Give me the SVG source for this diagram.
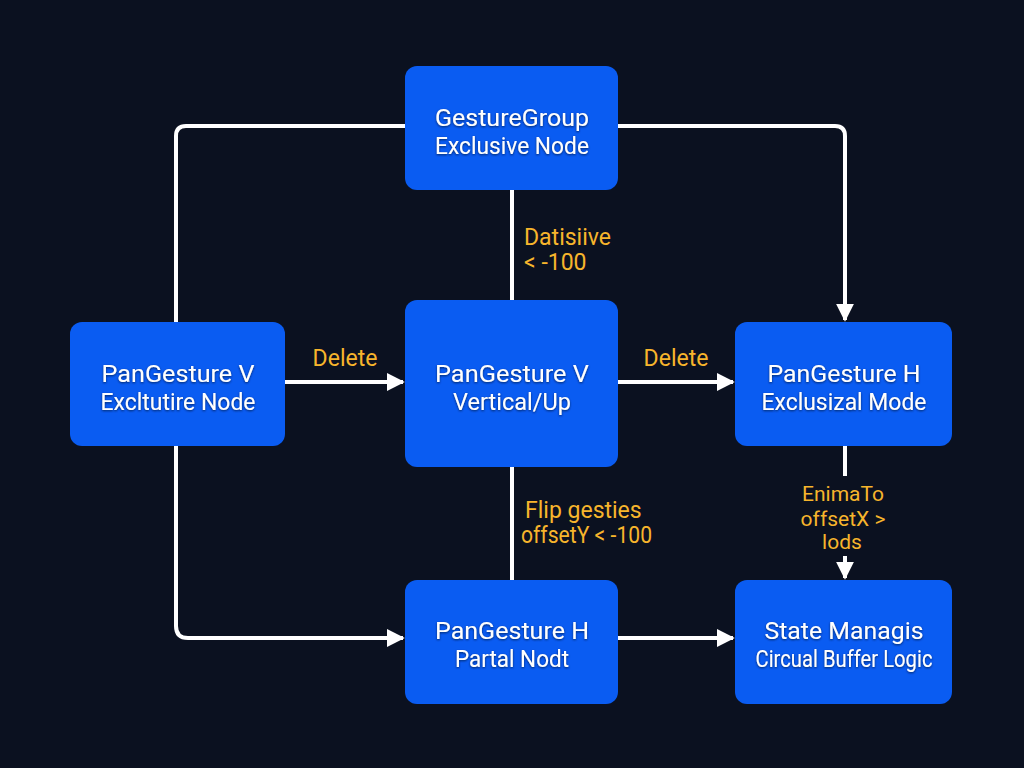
<svg xmlns="http://www.w3.org/2000/svg" width="1024" height="768" viewBox="0 0 1024 768">
<defs>
<style>
.node{fill:#0a5cf2;}
.nt{font-family:Roboto,"Liberation Sans",sans-serif;font-size:24px;fill:#ffffff;text-anchor:middle;}
.lb{font-family:Roboto,"Liberation Sans",sans-serif;font-size:23px;fill:#f7b52c;}
.sm{font-size:21px;}
.c{fill:none;stroke:#ffffff;stroke-width:4;stroke-linejoin:round;}
</style>
<filter id="sh" x="-10%" y="-10%" width="120%" height="130%">
<feDropShadow dx="0" dy="1" stdDeviation="1.2" flood-color="#001a55" flood-opacity="0.9"/>
</filter>
<marker id="ah" viewBox="0 0 10 10" refX="9" refY="5" markerWidth="4.5" markerHeight="4.5" orient="auto" markerUnits="strokeWidth">
<path d="M0,0 L10,5 L0,10 z" fill="#ffffff"/>
</marker>
</defs>
<rect width="1024" height="768" fill="#0b1120"/>
<g id="connectors">
<path class="c" d="M405,126 H186 Q176,126 176,136 V322"/>
<path class="c" d="M618,126 H835 Q845,126 845,136 V320" marker-end="url(#ah)"/>
<path class="c" d="M512,190 V300"/>
<path class="c" d="M285,382 H403" marker-end="url(#ah)"/>
<path class="c" d="M618,382 H733" marker-end="url(#ah)"/>
<path class="c" d="M176,446 V626 Q176,638 188,638 H403" marker-end="url(#ah)"/>
<path class="c" d="M512,467 V580"/>
<path class="c" d="M618,638 H733" marker-end="url(#ah)"/>
<path class="c" d="M845,446 V476"/>
<path class="c" d="M845,556 V578" marker-end="url(#ah)"/>
<text class="lb" x="524" y="245">Datisiive</text>
<text class="lb" x="524" y="270">&lt; -100</text>
<text class="lb" x="345" y="366" text-anchor="middle">Delete</text>
<text class="lb" x="676" y="366" text-anchor="middle">Delete</text>
<text class="lb" x="525" y="518">Flip gesties</text>
<text class="lb" x="521" y="543" textLength="131" lengthAdjust="spacingAndGlyphs">offsetY &lt; -100</text>
<text class="lb sm" x="843" y="501" text-anchor="middle">EnimaTo</text>
<text class="lb sm" x="843" y="526" text-anchor="middle">offsetX &gt;</text>
<text class="lb sm" x="842" y="549" text-anchor="middle">lods</text>
</g>
<g id="n-top">
<rect class="node" x="405" y="66" width="213" height="124" rx="12"/>
<text class="nt" x="512" y="126" textLength="154" lengthAdjust="spacingAndGlyphs" filter="url(#sh)">GestureGroup</text>
<text class="nt" x="512" y="154" textLength="154" lengthAdjust="spacingAndGlyphs" filter="url(#sh)">Exclusive Node</text>
</g>
<g id="n-left">
<rect class="node" x="70" y="322" width="215" height="124" rx="12"/>
<text class="nt" x="178" y="382" textLength="153" lengthAdjust="spacingAndGlyphs" filter="url(#sh)">PanGesture V</text>
<text class="nt" x="178" y="410" textLength="155" lengthAdjust="spacingAndGlyphs" filter="url(#sh)">Excltutire Node</text>
</g>
<g id="n-center">
<rect class="node" x="405" y="300" width="213" height="167" rx="12"/>
<text class="nt" x="512" y="382" textLength="154" lengthAdjust="spacingAndGlyphs" filter="url(#sh)">PanGesture V</text>
<text class="nt" x="512" y="410" textLength="118" lengthAdjust="spacingAndGlyphs" filter="url(#sh)">Vertical/Up</text>
</g>
<g id="n-right">
<rect class="node" x="735" y="322" width="217" height="124" rx="12"/>
<text class="nt" x="844" y="382" textLength="153" lengthAdjust="spacingAndGlyphs" filter="url(#sh)">PanGesture H</text>
<text class="nt" x="844" y="410" textLength="165" lengthAdjust="spacingAndGlyphs" filter="url(#sh)">Exclusizal Mode</text>
</g>
<g id="n-bottom">
<rect class="node" x="405" y="580" width="213" height="124" rx="12"/>
<text class="nt" x="512" y="639" textLength="154" lengthAdjust="spacingAndGlyphs" filter="url(#sh)">PanGesture H</text>
<text class="nt" x="512" y="667" textLength="114" lengthAdjust="spacingAndGlyphs" filter="url(#sh)">Partal Nodt</text>
</g>
<g id="n-state">
<rect class="node" x="735" y="580" width="217" height="124" rx="12"/>
<text class="nt" x="844" y="639" textLength="159" lengthAdjust="spacingAndGlyphs" filter="url(#sh)">State Managis</text>
<text class="nt" x="844" y="667" textLength="177" lengthAdjust="spacingAndGlyphs" filter="url(#sh)">Circual Buffer Logic</text>
</g>
</svg>
